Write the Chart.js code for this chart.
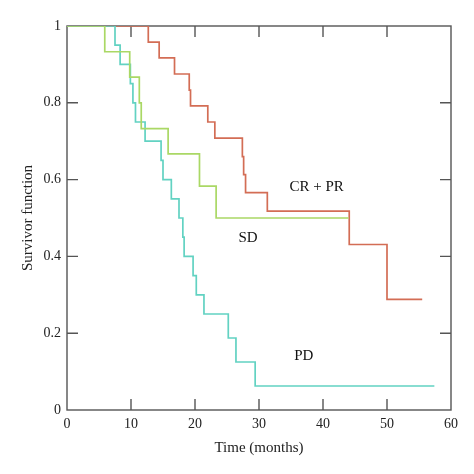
<!DOCTYPE html>
<html>
<head>
<meta charset="utf-8">
<script src="https://cdn.jsdelivr.net/npm/chart.js@4/dist/chart.umd.min.js"></script>
<style>
  html, body { margin: 0; padding: 0; background: #fff; }
  #wrap { width: 474px; height: 474px; }
</style>
</head>
<body>
<div id="wrap"><canvas id="kmChart" width="474" height="474"></canvas></div>
<script>
// Kaplan-Meier curves: time (months) where the curve drops, and the new value
const crprTimes = [0, 12.7, 14.4, 16.8, 19.1, 19.3, 22.0, 23.1, 27.4, 27.6, 27.9, 31.3, 44.1, 50.0, 55.5];
const crprValues = [1, 0.958, 0.917, 0.875, 0.833, 0.792, 0.75, 0.708, 0.66, 0.613, 0.566, 0.518, 0.431, 0.288, 0.288];

const sdTimes = [0, 5.9, 9.8, 11.3, 11.6, 15.8, 20.7, 23.3, 44.0];
const sdValues = [1, 0.933, 0.867, 0.8, 0.733, 0.667, 0.583, 0.5, 0.5];

const pdTimes = [0, 7.5, 8.3, 9.9, 10.3, 10.7, 12.2, 14.7, 15.0, 16.3, 17.5, 18.1, 18.3, 19.7, 20.2, 21.4, 25.2, 26.4, 29.4, 57.4];
const pdValues = [1, 0.95, 0.9, 0.85, 0.8, 0.75, 0.7, 0.65, 0.6, 0.55, 0.5, 0.45, 0.4, 0.35, 0.3, 0.25, 0.1875, 0.125, 0.0625, 0.0625];

const xTicks = [0, 10, 20, 30, 40, 50, 60];
const yTicks = [0, 0.2, 0.4, 0.6, 0.8, 1];
const yTickLabels = ['0', '0.2', '0.4', '0.6', '0.8', '1'];

const curveLabels = [
  { text: 'CR + PR', x: 39.0, y: 0.581 },
  { text: 'SD', x: 28.3, y: 0.448 },
  { text: 'PD', x: 37.0, y: 0.14 }
];

function toPoints(times, values) {
  return times.map((t, i) => ({ x: t, y: values[i] }));
}

const serif = "'Liberation Serif', 'DejaVu Serif', serif";

// frame with inward ticks on all four sides (under the curves), curve labels on top
const framePlugin = {
  id: 'frame',
  beforeDatasetsDraw(chart) {
    const { ctx, chartArea: a, scales } = chart;
    const len = 11;
    ctx.save();
    ctx.strokeStyle = '#555';
    ctx.lineWidth = 1.4;
    ctx.strokeRect(a.left, a.top, a.right - a.left, a.bottom - a.top);
    ctx.beginPath();
    xTicks.forEach(v => {
      const px = scales.x.getPixelForValue(v);
      if (px <= a.left + 1 || px >= a.right - 1) return;
      ctx.moveTo(px, a.bottom); ctx.lineTo(px, a.bottom - len);
      ctx.moveTo(px, a.top); ctx.lineTo(px, a.top + len);
    });
    yTicks.forEach(v => {
      const py = scales.y.getPixelForValue(v);
      if (py <= a.top + 1 || py >= a.bottom - 1) return;
      ctx.moveTo(a.left, py); ctx.lineTo(a.left + len, py);
      ctx.moveTo(a.right, py); ctx.lineTo(a.right - len, py);
    });
    ctx.stroke();
    ctx.restore();
  },
  afterDatasetsDraw(chart) {
    const { ctx, scales } = chart;
    ctx.save();
    ctx.fillStyle = '#111';
    ctx.font = '15px ' + serif;
    ctx.textAlign = 'center';
    ctx.textBaseline = 'middle';
    curveLabels.forEach(l => {
      ctx.fillText(l.text, scales.x.getPixelForValue(l.x), scales.y.getPixelForValue(l.y));
    });
    ctx.restore();
  }
};

const ctx = document.getElementById('kmChart').getContext('2d');
const chart = new Chart(ctx, {
  type: 'line',
  data: {
    datasets: [
      {
        label: 'SD',
        data: toPoints(sdTimes, sdValues),
        borderColor: '#aad865',
        order: 0
      },
      {
        label: 'PD',
        data: toPoints(pdTimes, pdValues),
        borderColor: '#62d2c2',
        order: 1
      },
      {
        label: 'CR + PR',
        data: toPoints(crprTimes, crprValues),
        borderColor: '#d36d55',
        order: 2
      }
    ]
  },
  options: {
    responsive: false,
    animation: false,
    layout: { padding: { top: 26, right: 23, left: 0, bottom: 0 } },
    elements: {
      line: { stepped: 'before', borderWidth: 1.7, fill: false, tension: 0 },
      point: { radius: 0 }
    },
    plugins: {
      legend: { display: false },
      tooltip: { enabled: false }
    },
    scales: {
      x: {
        type: 'linear',
        min: 0,
        max: 60,
        grid: { display: false, drawTicks: false, tickLength: 0 },
        border: { display: false },
        afterBuildTicks: s => { s.ticks = xTicks.map(v => ({ value: v })); },
        afterFit: s => { s.height = 64; },
        ticks: { color: '#222', font: { family: serif, size: 14 }, padding: 6, maxRotation: 0 },
        title: {
          display: true,
          text: 'Time (months)',
          color: '#222',
          font: { family: serif, size: 15 },
          padding: { top: 0, bottom: 17 }
        }
      },
      y: {
        min: 0,
        max: 1,
        grid: { display: false, drawTicks: false, tickLength: 0 },
        border: { display: false },
        afterBuildTicks: s => { s.ticks = yTicks.map(v => ({ value: v })); },
        afterFit: s => { s.width = 67; },
        ticks: {
          color: '#222',
          font: { family: serif, size: 14 },
          padding: 6,
          callback: v => yTickLabels[yTicks.indexOf(v)]
        },
        title: {
          display: true,
          text: 'Survivor function',
          color: '#222',
          font: { family: serif, size: 15 },
          padding: { top: 19, bottom: 0 }
        }
      }
    }
  },
  plugins: [framePlugin]
});
</script>
</body>
</html>
